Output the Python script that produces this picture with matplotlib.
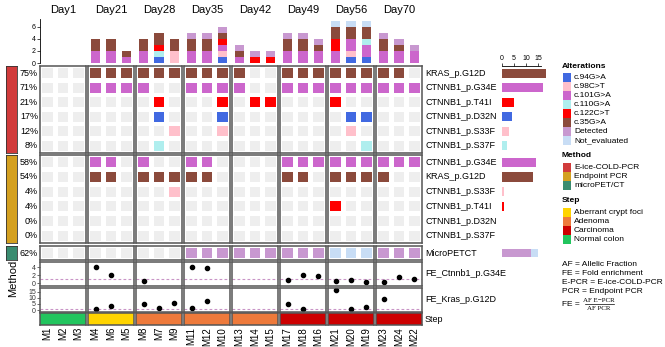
import numpy as np
import matplotlib
matplotlib.use("Agg")
import matplotlib.pyplot as plt
from matplotlib.patches import Rectangle
from matplotlib.lines import Line2D

plt.rcParams['font.family'] = ['Liberation Sans', 'DejaVu Sans']

# ---------------- data ----------------
days = ["Day1", "Day21", "Day28", "Day35", "Day42", "Day49", "Day56", "Day70"]
samples = ["M1", "M2", "M3", "M4", "M6", "M5", "M8", "M7", "M9", "M11", "M12", "M10",
           "M13", "M14", "M15", "M17", "M18", "M16", "M21", "M20", "M19", "M23", "M24", "M22"]
day_steps = ["Normal colon", "Aberrant crypt foci", "Adenoma", "Adenoma", "Adenoma",
             "Carcinoma", "Carcinoma", "Carcinoma"]

alterations = ["c.94G>A", "c.98C>T", "c.101G>A", "c.110G>A", "c.122C>T", "c.35G>A",
               "Detected", "Not_evaluated"]

eice_rows = ["KRAS_p.G12D", "CTNNB1_p.G34E", "CTNNB1_p.T41I", "CTNNB1_p.D32N",
             "CTNNB1_p.S33F", "CTNNB1_p.S37F"]
eice_alt = ["c.35G>A", "c.101G>A", "c.122C>T", "c.94G>A", "c.98C>T", "c.110G>A"]
eice_kras = [0, 0, 0, 1, 1, 1, 1, 1, 1, 1, 1, 1, 1, 0, 0, 1, 1, 1, 1, 1, 1, 1, 1, 0]
eice_g34e = [0, 0, 0, 1, 1, 1, 1, 0, 0, 1, 1, 1, 1, 0, 0, 1, 1, 1, 1, 1, 1, 1, 1, 1]
eice_t41i = [0, 0, 0, 0, 0, 0, 0, 1, 0, 0, 0, 1, 0, 1, 1, 0, 0, 0, 1, 0, 0, 0, 0, 0]
eice_d32n = [0, 0, 0, 0, 0, 0, 0, 1, 0, 0, 0, 1, 0, 0, 0, 0, 0, 0, 0, 1, 1, 0, 0, 0]
eice_s33f = [0, 0, 0, 0, 0, 0, 0, 0, 1, 0, 0, 1, 0, 0, 0, 0, 0, 0, 0, 1, 0, 0, 0, 0]
eice_s37f = [0, 0, 0, 0, 0, 0, 0, 1, 0, 0, 0, 0, 0, 0, 0, 0, 0, 0, 0, 0, 1, 0, 0, 0]

pcr_rows = ["CTNNB1_p.G34E", "KRAS_p.G12D", "CTNNB1_p.S33F", "CTNNB1_p.T41I",
            "CTNNB1_p.D32N", "CTNNB1_p.S37F"]
pcr_alt = ["c.101G>A", "c.35G>A", "c.98C>T", "c.122C>T", "c.94G>A", "c.110G>A"]
pcr_g34e = [0, 0, 0, 1, 1, 0, 1, 0, 0, 1, 1, 0, 0, 0, 0, 1, 1, 1, 1, 1, 1, 1, 1, 1]
pcr_kras = [0, 0, 0, 1, 1, 0, 1, 1, 1, 1, 1, 0, 0, 0, 0, 1, 1, 0, 1, 1, 1, 1, 0, 0]
pcr_s33f = [0, 0, 0, 0, 0, 0, 0, 0, 1, 0, 0, 0, 0, 0, 0, 0, 0, 0, 0, 0, 0, 0, 0, 0]
pcr_t41i = [0, 0, 0, 0, 0, 0, 0, 0, 0, 0, 0, 0, 0, 0, 0, 0, 0, 0, 1, 0, 0, 0, 0, 0]
pcr_d32n = [0] * 24
pcr_s37f = [0] * 24

# 0 = none, 1 = Detected, 2 = Not_evaluated
micropet = [0, 0, 0, 0, 0, 0, 0, 0, 0, 1, 1, 1, 1, 1, 1, 1, 1, 1, 2, 2, 2, 1, 1, 1]

nan = np.nan
fe_ctnnb1 = [nan, nan, nan, 4.15, 2.1, nan, 0.65, nan, nan, 4.15, 3.8, nan,
             nan, nan, nan, 0.9, 2.15, 1.9, 0.5, 0.8, 0.3, 0.25, 1.6, 1.0]
fe_kras = [nan, nan, nan, 1.1, 3.0, nan, 5.2, 1.4, 5.7, 1.9, 7.1, nan,
           nan, nan, nan, 4.9, 1.1, nan, 16.4, 0.5, 2.2, 9.3, nan, nan]

# ---------------- style ----------------
alt_colors = {"c.94G>A": "#4169E1", "c.98C>T": "#FFC0CB", "c.101G>A": "#CC66CC",
              "c.110G>A": "#AFEEEE", "c.122C>T": "#FF0000", "c.35G>A": "#8B4A3C",
              "Detected": "#C898D0", "Not_evaluated": "#C8DDF5"}
method_colors = {"E-ice-COLD-PCR": "#D13B3B", "Endpoint PCR": "#D4A020",
                 "microPET/CT": "#3A8C70"}
step_colors = {"Aberrant crypt foci": "#FFD400", "Adenoma": "#EE7A3B",
               "Carcinoma": "#CC0000", "Normal colon": "#22C55E"}
GRAY = "#EEEEEE"
FRAME = "#555555"

W, H = 665, 347
fig = plt.figure(figsize=(W / 100, H / 100), dpi=100)


def add_ax(x0, y0, x1, y1):
    return fig.add_axes([x0 / W, 1 - y1 / H, (x1 - x0) / W, (y1 - y0) / H])


def ftext(x, y, s, **kw):
    fig.text(x / W, 1 - y / H, s, **kw)


eice = [eice_kras, eice_g34e, eice_t41i, eice_d32n, eice_s33f, eice_s37f]
pcr = [pcr_g34e, pcr_kras, pcr_s33f, pcr_t41i, pcr_d32n, pcr_s37f]

# stacked counts per sample
stack = {a: np.zeros(24) for a in alterations}
for vals, a in zip(eice, eice_alt):
    stack[a] += np.array(vals)
for vals, a in zip(pcr, pcr_alt):
    stack[a] += np.array(vals)
stack["Detected"] += (np.array(micropet) == 1)
stack["Not_evaluated"] += (np.array(micropet) == 2)

# panel geometry (px)
PX0, STEP, PW = 40, 48, 46
Y_TOP = (19, 63)
Y_EICE = (66, 153)
Y_PCR = (155, 243)
Y_PET = (246, 260)
Y_FE1 = (262, 286)
Y_FE2 = (288, 312)
Y_STEP = (313, 325)
CW = 0.68


def frame(ax):
    ax.set_xticks([]); ax.set_yticks([])
    for s in ax.spines.values():
        s.set_color(FRAME); s.set_linewidth(1.1)


for g, day in enumerate(days):
    x0 = PX0 + g * STEP
    x1 = x0 + PW
    cols = range(g * 3, g * 3 + 3)

    # top stacked bars
    ax = add_ax(x0, Y_TOP[0], x1, Y_TOP[1])
    ax.set_xlim(-0.5, 2.5); ax.set_ylim(0, 7.33)
    for k, c in enumerate(cols):
        bottom = 0
        for a in alterations:
            v = stack[a][c]
            if v > 0:
                ax.bar(k, v, bottom=bottom, width=0.6, color=alt_colors[a], linewidth=0)
                bottom += v
    for s in ["top", "right", "bottom"]:
        ax.spines[s].set_visible(False)
    ax.set_xticks([])
    if g == 0:
        ax.spines["left"].set_linewidth(0.6)
        ax.set_yticks([0, 2, 4, 6])
        ax.tick_params(axis="y", labelsize=5, length=2, width=0.5, pad=1)
    else:
        ax.spines["left"].set_visible(False)
        ax.set_yticks([])
    ax.patch.set_alpha(0)
    ftext((x0 + x1) / 2, 10, day, ha="center", va="center", fontsize=8)

    # E-ice and PCR blocks
    for (yy, rows, alts) in [(Y_EICE, eice, eice_alt), (Y_PCR, pcr, pcr_alt)]:
        ax = add_ax(x0, yy[0], x1, yy[1])
        ax.set_xlim(-0.5, 2.5); ax.set_ylim(5.5, -0.5)
        for r, (vals, a) in enumerate(zip(rows, alts)):
            for k, c in enumerate(cols):
                col = alt_colors[a] if vals[c] else GRAY
                ax.add_patch(Rectangle((k - CW / 2, r - CW / 2), CW, CW, color=col, lw=0))
        frame(ax)

    # microPET row
    ax = add_ax(x0, Y_PET[0], x1, Y_PET[1])
    ax.set_xlim(-0.5, 2.5); ax.set_ylim(0.5, -0.5)
    for k, c in enumerate(cols):
        col = {0: GRAY, 1: alt_colors["Detected"], 2: alt_colors["Not_evaluated"]}[micropet[c]]
        ax.add_patch(Rectangle((k - CW / 2, -CW / 2), CW, CW, color=col, lw=0))
    frame(ax)

    # FE rows
    for (yy, vals, lim, ticks) in [(Y_FE1, fe_ctnnb1, (-0.7, 5.3), [0, 2, 4]),
                                   (Y_FE2, fe_kras, (-1.6, 18.0), [0, 5, 10, 15])]:
        ax = add_ax(x0, yy[0], x1, yy[1])
        ax.set_xlim(-0.5, 2.5); ax.set_ylim(*lim)
        ax.axhline(1, color="#C994C7", lw=0.8, ls=(0, (2.5, 2)))
        ax.plot(range(3), [vals[c] for c in cols], "o", color="black", ms=3)
        frame(ax)
        if g == 0:
            ax.set_yticks(ticks)
            ax.tick_params(axis="y", labelsize=5, length=2, width=0.5, pad=1,
                           colors="#333333")

    # Step row
    ax = add_ax(x0, Y_STEP[0], x1, Y_STEP[1])
    ax.set_facecolor(step_colors[day_steps[g]])
    frame(ax)

    # sample labels
    for k, c in enumerate(cols):
        cx = x0 + (k + 0.5) * PW / 3
        ftext(cx, 327, samples[c], rotation=90, ha="center", va="top", fontsize=7)

# left method annotation bars
for (yy, m) in [(Y_EICE, "E-ice-COLD-PCR"), (Y_PCR, "Endpoint PCR"), (Y_PET, "microPET/CT")]:
    ax = add_ax(6, yy[0], 17, yy[1])
    ax.set_facecolor(method_colors[m])
    ax.set_xticks([]); ax.set_yticks([])
    for s in ax.spines.values():
        s.set_linewidth(0.6); s.set_color("#333333")
ftext(13, 278, "Method", rotation=90, ha="center", va="center", fontsize=8)

# percentages and row labels
row_h_e = (Y_EICE[1] - Y_EICE[0]) / 6
row_h_p = (Y_PCR[1] - Y_PCR[0]) / 6
for r, (name, vals) in enumerate(zip(eice_rows, eice)):
    y = Y_EICE[0] + (r + 0.5) * row_h_e
    ftext(38, y, f"{round(100 * sum(vals) / 24)}%", ha="right", va="center", fontsize=6.5)
    ftext(425, y, name, ha="left", va="center", fontsize=6.5)
for r, (name, vals) in enumerate(zip(pcr_rows, pcr)):
    y = Y_PCR[0] + (r + 0.5) * row_h_p
    ftext(38, y, f"{round(100 * sum(vals) / 24)}%", ha="right", va="center", fontsize=6.5)
    ftext(425, y, name, ha="left", va="center", fontsize=6.5)
pet_pct = round(100 * sum(1 for v in micropet if v > 0) / 24)
ftext(38, sum(Y_PET) / 2, f"{pet_pct}%", ha="right", va="center", fontsize=6.5)
ftext(425, sum(Y_PET) / 2, "MicroPETCT", ha="left", va="center", fontsize=6.5)
ftext(425, sum(Y_FE1) / 2, "FE_Ctnnb1_p.G34E", ha="left", va="center", fontsize=6.5)
ftext(425, sum(Y_FE2) / 2, "FE_Kras_p.G12D", ha="left", va="center", fontsize=6.5)
ftext(425, sum(Y_STEP) / 2, "Step", ha="left", va="center", fontsize=6.5)

# right barplots
BX0, BX1 = 502, 548
XLIM = (0, 19)
for (yy, rows, alts, is_top) in [(Y_EICE, eice, eice_alt, True), (Y_PCR, pcr, pcr_alt, False)]:
    ax = add_ax(BX0, yy[0], BX1, yy[1])
    ax.set_xlim(*XLIM); ax.set_ylim(5.5, -0.5)
    for r, (vals, a) in enumerate(zip(rows, alts)):
        ax.barh(r, sum(vals), height=0.62, color=alt_colors[a], lw=0)
    for s in ["bottom", "left", "right"]:
        ax.spines[s].set_visible(False)
    ax.set_yticks([])
    if is_top:
        ax.spines["top"].set_linewidth(0.6)
        ax.xaxis.tick_top()
        ax.set_xticks([0, 5, 10, 15])
        ax.tick_params(axis="x", labelsize=5, length=2, width=0.5, pad=1)
        ax.spines["top"].set_bounds(0, 16)
    else:
        ax.spines["top"].set_visible(False)
        ax.set_xticks([])
    ax.patch.set_alpha(0)
ax = add_ax(BX0, Y_PET[0], BX1, Y_PET[1])
ax.set_xlim(*XLIM); ax.set_ylim(0.5, -0.5)
n_det = sum(1 for v in micropet if v == 1)
n_ne = sum(1 for v in micropet if v == 2)
ax.barh(0, n_det, height=0.62, color=alt_colors["Detected"], lw=0)
ax.barh(0, n_ne, left=n_det, height=0.62, color=alt_colors["Not_evaluated"], lw=0)
ax.axis("off")

# legends
LX = 563
LFS = 6


def legend_block(title, ty, items, colors, y0):
    ftext(LX - 1, ty, title, ha="left", va="center", fontsize=LFS, fontweight="bold")
    for i, it in enumerate(items):
        y = y0 + i * 9
        ax = add_ax(LX, y - 4.5, LX + 8, y + 4.5)
        ax.set_facecolor(colors[it])
        ax.set_xticks([]); ax.set_yticks([])
        for s in ax.spines.values():
            s.set_visible(False)
        ftext(LX + 11, y, it, ha="left", va="center", fontsize=LFS)


legend_block("Alterations", 66, alterations, alt_colors, 77.7)
legend_block("Method", 155.7, list(method_colors), method_colors, 167.7)
legend_block("Step", 201, list(step_colors), step_colors, 212.7)

notes = ["AF = Allelic Fraction", "FE = Fold enrichment",
         "E-PCR = E-ice-COLD-PCR", "PCR = Endpoint PCR"]
for i, n in enumerate(notes):
    ftext(LX - 1, 264 + i * 9.3, n, ha="left", va="center", fontsize=LFS)

# FE formula drawn as a stacked fraction
ftext(LX - 1, 304, "FE =", ha="left", va="center", fontsize=LFS)
FCX = 599
ftext(FCX, 302.5, "AF E\u2212PCR", ha="center", va="bottom", fontsize=5,
      family="Liberation Serif")
ftext(FCX, 305.5, "AF PCR", ha="center", va="top", fontsize=5,
      family="Liberation Serif")
fig.add_artist(Line2D([585 / W, 614 / W], [1 - 304 / H, 1 - 304 / H],
                      color="black", lw=0.5))

fig.savefig("out.png", dpi=100)
